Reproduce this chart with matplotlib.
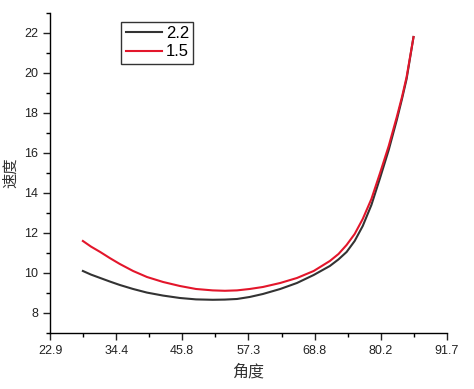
import numpy as np
import matplotlib.pyplot as plt
from matplotlib.ticker import MultipleLocator, FixedLocator

plt.rcParams['font.family'] = ['Liberation Sans', 'DejaVu Sans']

# Data (angle in degrees)
angle = [28.6, 30.0, 31.6, 33.3, 35.0, 37.3, 39.7, 42.5, 45.4, 48.2, 51.1, 53.2,
         55.3, 57.5, 59.8, 62.8, 65.7, 68.6, 71.4, 72.9, 74.3, 75.7, 77.1, 78.6,
         80.1, 81.6, 83.0, 83.9, 84.7, 85.3, 85.9]
speed_15 = [11.6, 11.32, 11.05, 10.74, 10.45, 10.1, 9.8, 9.55, 9.35, 9.2, 9.13, 9.11,
            9.13, 9.2, 9.3, 9.5, 9.75, 10.1, 10.6, 10.95, 11.4, 11.95, 12.7, 13.7,
            15.0, 16.35, 17.8, 18.8, 19.8, 20.8, 21.8]
speed_22 = [10.1, 9.92, 9.75, 9.57, 9.4, 9.2, 9.02, 8.87, 8.75, 8.68, 8.66, 8.67,
            8.7, 8.8, 8.95, 9.2, 9.5, 9.9, 10.35, 10.68, 11.05, 11.6, 12.35, 13.4,
            14.75, 16.15, 17.65, 18.7, 19.7, 20.75, 21.8]

x_ticks = [22.9, 34.4, 45.8, 57.3, 68.8, 80.2, 91.7]

fig = plt.figure(figsize=(4.74, 3.89), dpi=100)
ax = fig.add_axes([0.1055, 0.144, 0.8375, 0.8226])

ax.plot(angle, speed_22, color='#333333', lw=1.5, label='2.2')
ax.plot(angle, speed_15, color='#e3162b', lw=1.5, label='1.5')

ax.set_xlim(22.9, 91.7)
ax.set_ylim(7, 23)
ax.set_xticks(x_ticks)
ax.set_xticklabels([f'{t:.1f}' for t in x_ticks])
ax.xaxis.set_minor_locator(FixedLocator([(a + b) / 2 for a, b in zip(x_ticks[:-1], x_ticks[1:])]))
ax.set_yticks(np.arange(8, 23, 2))
ax.yaxis.set_minor_locator(MultipleLocator(1))

for side in ['top', 'right']:
    ax.spines[side].set_visible(False)
ax.spines['left'].set_linewidth(1.0)
ax.spines['bottom'].set_linewidth(1.0)
ax.tick_params(which='major', direction='out', length=5, width=1, labelsize=9, colors='#222222')
ax.tick_params(which='minor', direction='out', length=3, width=1)

ax.set_xlabel('角度', family=['Noto Sans CJK SC'], fontsize=11.5, color='#333333', labelpad=5)
ax.set_ylabel('速度', family=['Noto Sans CJK SC'], fontsize=11, color='#333333', labelpad=4)

leg = ax.legend(loc='upper left', bbox_to_anchor=(0.18, 0.972), fontsize=12,
                frameon=True, fancybox=False, edgecolor='black', handlelength=2.2,
                handletextpad=0.2, borderpad=0.25, labelspacing=0.2, borderaxespad=0)
leg.get_frame().set_linewidth(1.0)

fig.savefig('out.png', dpi=100)
